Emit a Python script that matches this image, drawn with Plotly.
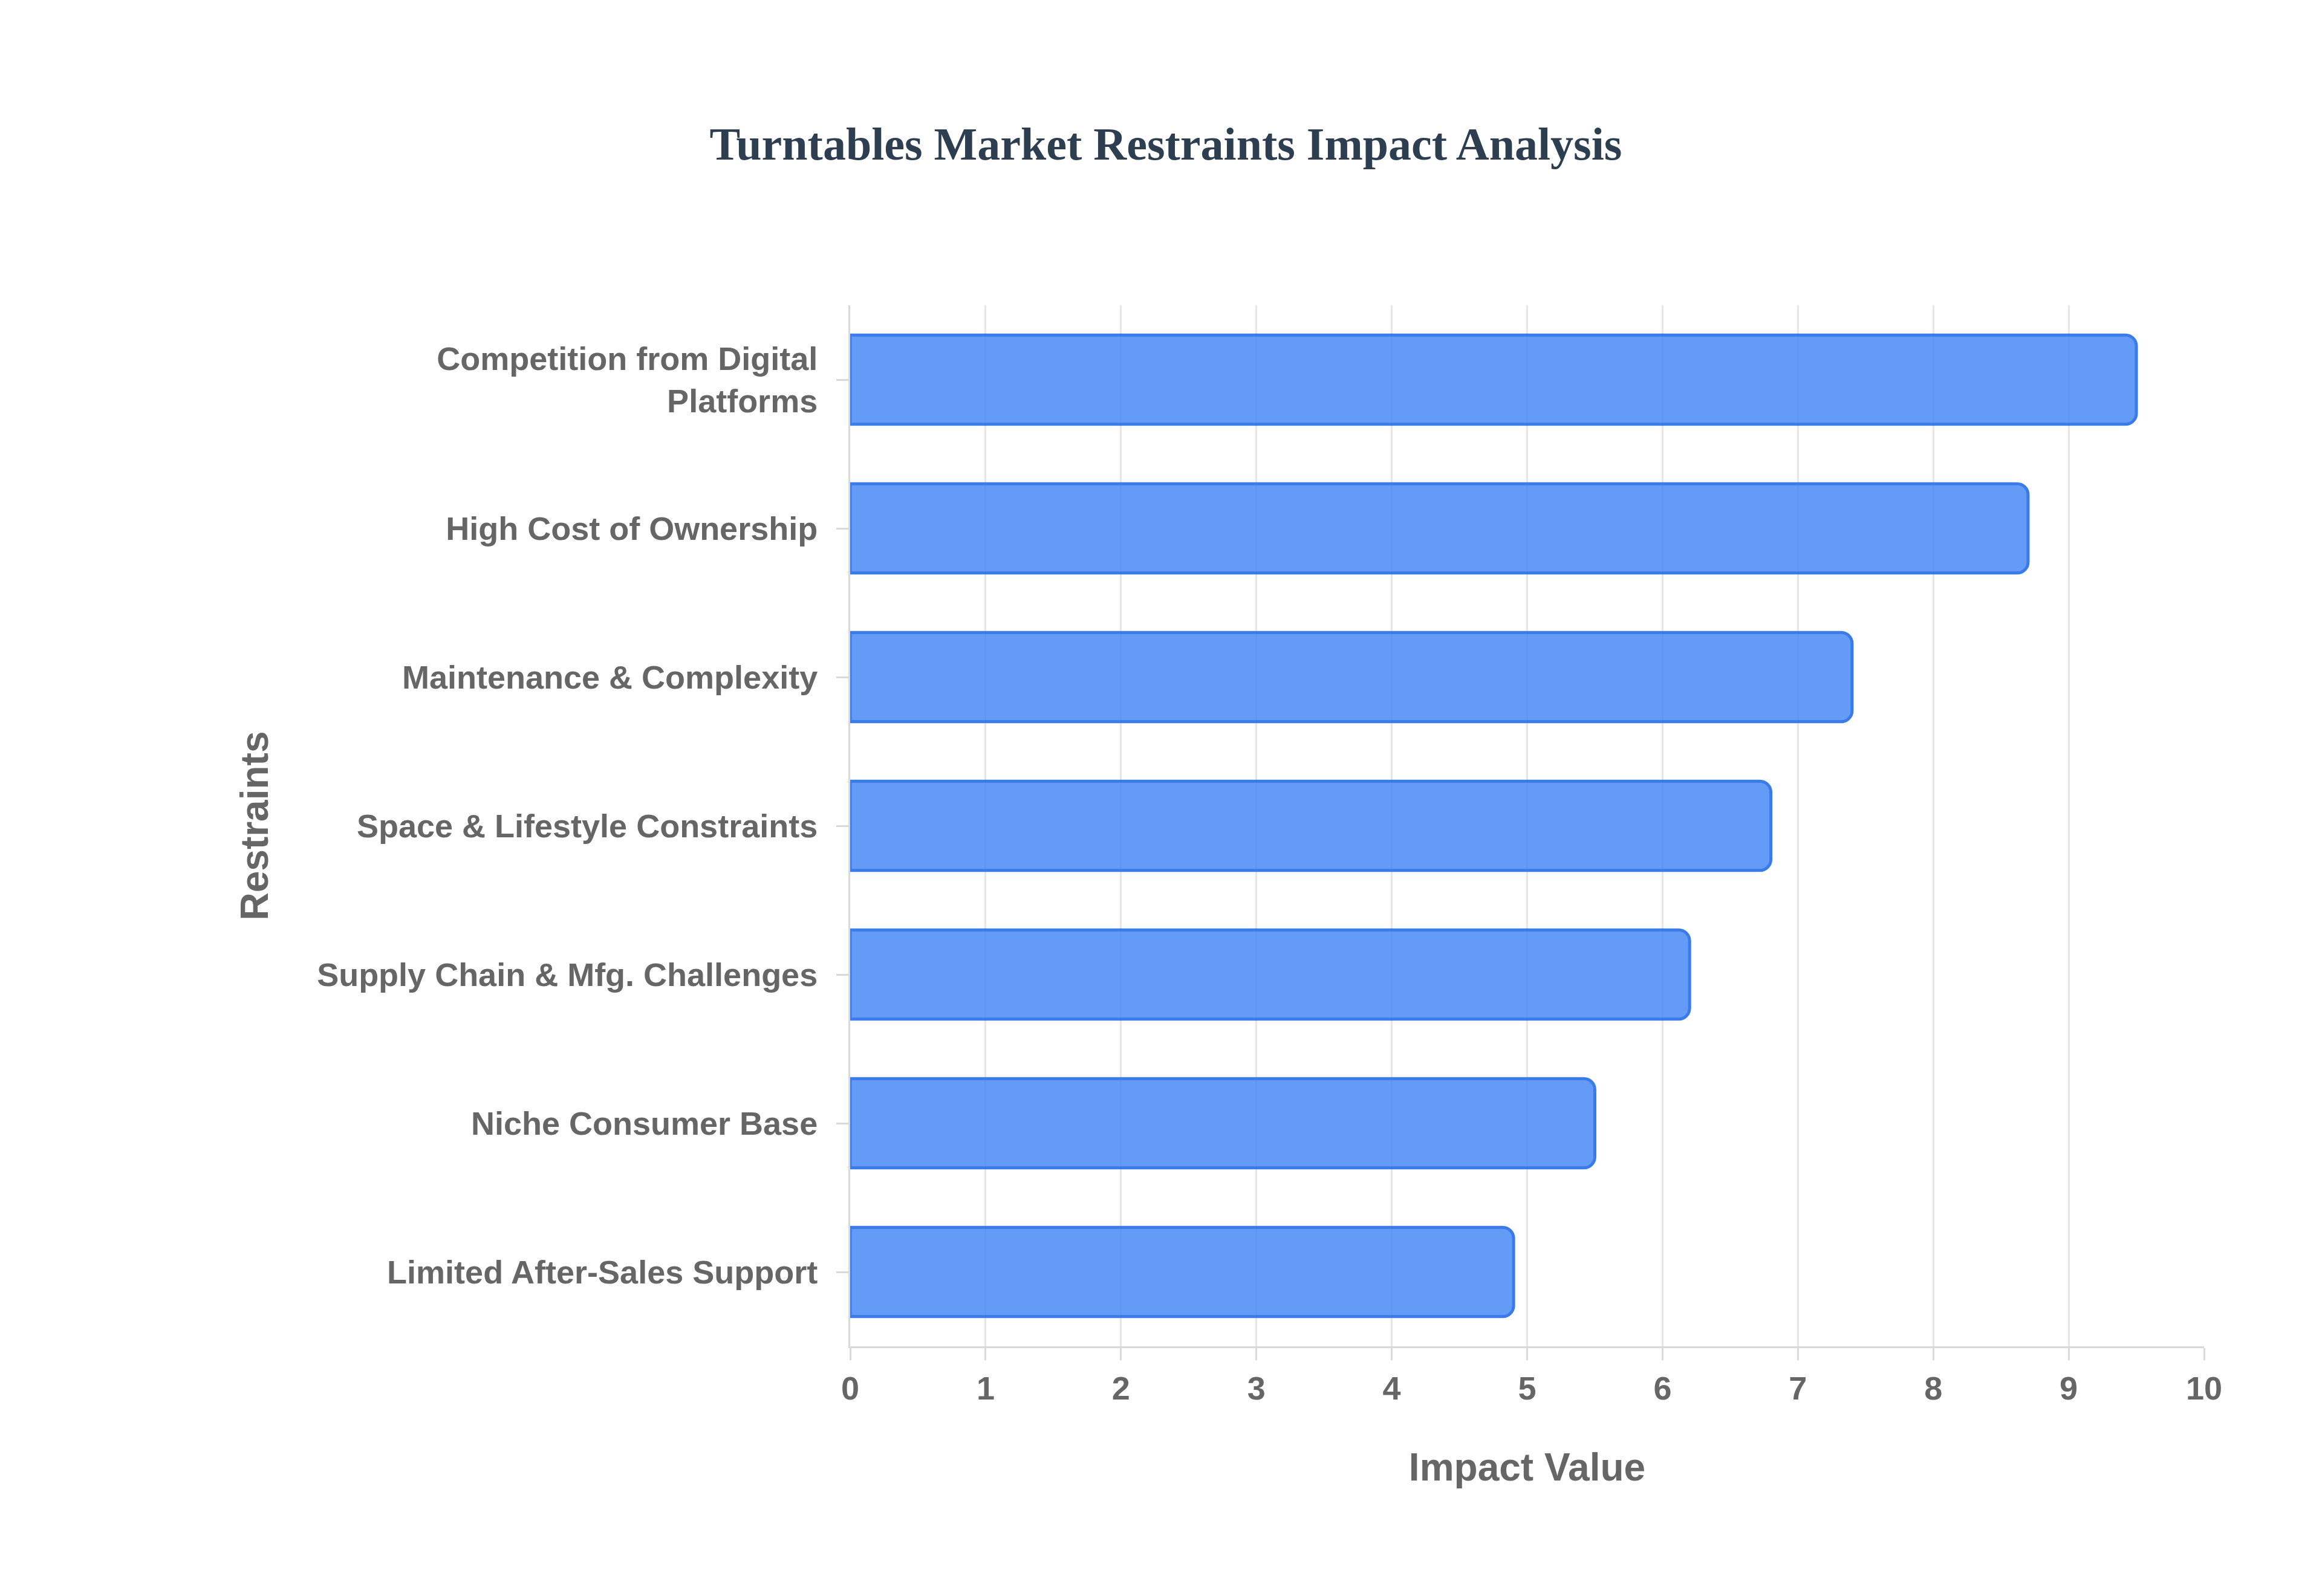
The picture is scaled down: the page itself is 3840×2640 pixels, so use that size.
import plotly.graph_objects as go

restraints = ['Competition from Digital<br>Platforms', 'High Cost of Ownership',
              'Maintenance & Complexity', 'Space & Lifestyle Constraints',
              'Supply Chain & Mfg. Challenges', 'Niche Consumer Base',
              'Limited After-Sales Support']
impact = [9.5, 8.7, 7.4, 6.8, 6.2, 5.5, 4.9]
x_ticks = list(range(0, 11))

fig = go.Figure(go.Bar(
    x=impact, y=restraints, orientation='h',
    marker=dict(color='rgba(66,133,244,0.82)', line=dict(color='#3b7be8', width=5),
                cornerradius=18),
))

fig.update_layout(
    width=3840, height=2640,
    paper_bgcolor='white', plot_bgcolor='white',
    margin=dict(l=1398, r=203, t=497, b=421),
    bargap=0.4,
    showlegend=False,
    title=dict(text='<b>Turntables Market Restraints Impact Analysis</b>',
               x=0.5, xanchor='center', y=0.913, yanchor='middle',
               font=dict(family='Liberation Serif', size=76, color='#2c3e50')),
    font=dict(family='Liberation Sans', color='#666666'),
)
fig.update_xaxes(
    range=[0, 10], tickvals=x_ticks, showgrid=True, gridcolor='#e6e6e6', gridwidth=3,
    zeroline=False, showline=True, linecolor='#d9d9d9', linewidth=3, mirror=False,
    ticks='outside', ticklen=20, tickcolor='#d9d9d9', tickwidth=3,
    tickfont=dict(size=54, color='#666666', family='Liberation Sans'),
    title=dict(text='<b>Impact Value</b>', font=dict(size=64, color='#666666'), standoff=80),
)
fig.update_yaxes(
    categoryorder='array', categoryarray=restraints[::-1],
    showgrid=False, showline=True, linecolor='#d9d9d9', linewidth=3,
    ticks='outside', ticklen=20, tickcolor='#d9d9d9', tickwidth=3,
    tickfont=dict(size=54, color='#666666', family='Liberation Sans'),
    ticklabelstandoff=20,
    title=dict(text='<b>Restraints</b>', font=dict(size=64, color='#666666'), standoff=60),
)
fig.for_each_yaxis(lambda a: a.update(ticktext=['<b>%s</b>' % r for r in restraints], tickvals=restraints))
fig.update_xaxes(ticktext=['<b>%d</b>' % t for t in x_ticks])

fig.write_html("out.html")
